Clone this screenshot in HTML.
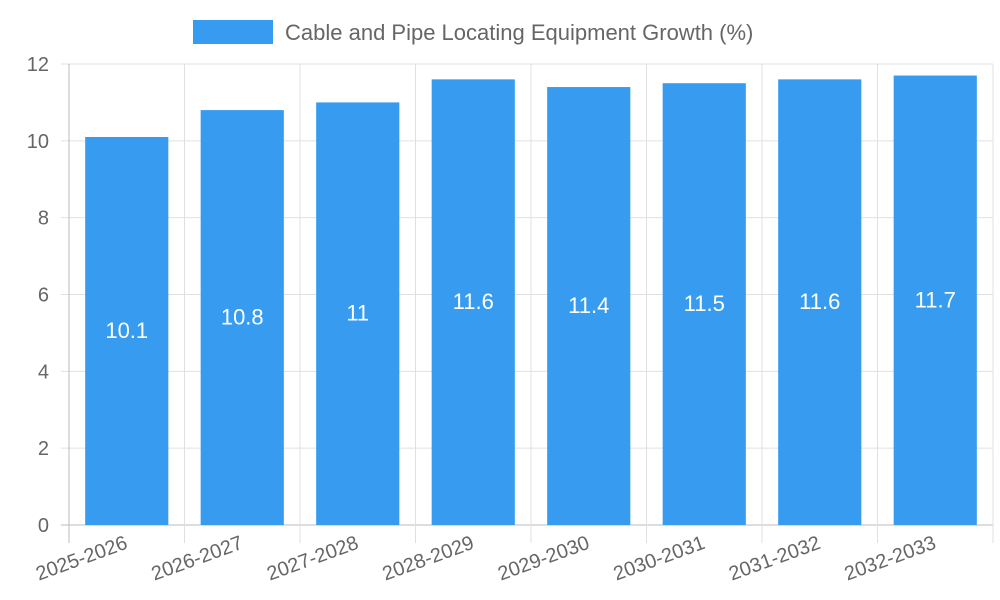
<!DOCTYPE html>
<html><head><meta charset="utf-8"><style>
body{margin:0;background:#fff;}
svg{display:block;font-family:"Liberation Sans",sans-serif;}
</style></head><body>
<svg id="chart" width="1000" height="600" viewBox="0 0 1000 600">
<g>
<rect x="193" y="20" width="80" height="24" fill="#379cf0"/>
<text x="285" y="40" font-size="22" fill="#666">Cable and Pipe Locating Equipment Growth (%)</text>
</g>
<g id="grid"></g><g id="bars"></g><g id="labels"></g>
</svg>
<script>
const categories=["2025-2026","2026-2027","2027-2028","2028-2029","2029-2030","2030-2031","2031-2032","2032-2033"];
const values=[10.1,10.8,11,11.6,11.4,11.5,11.6,11.7];
const yTicks=[0,2,4,6,8,10,12];
const L=69,R=993,T=64,B=525,yMax=12;
const ns="http://www.w3.org/2000/svg";
const y=v=>B-(v/yMax)*(B-T);
const bw=(R-L)/categories.length;
const x=i=>L+i*bw;
const grid=document.getElementById('grid'),bars=document.getElementById('bars'),labels=document.getElementById('labels');
function mk(tag,attrs,parent){const e=document.createElementNS(ns,tag);for(const k in attrs)e.setAttribute(k,attrs[k]);parent.appendChild(e);return e;}
yTicks.forEach(t=>{
  const l=mk('line',{x1:L-8,x2:R,y1:y(t),y2:y(t),stroke:t===0?'#bbb':'#e0e0e0','stroke-width':1},grid);
  
  
  const tx=mk('text',{x:L-20,y:y(t)+7,'text-anchor':'end','font-size':20,fill:'#666'},grid);
  tx.textContent=t;
  
  
});
for(let i=0;i<=categories.length;i++){
  const l=mk('line',{x1:x(i),x2:x(i),y1:T,y2:B+18,stroke:i===0?'#bbb':'#e0e0e0','stroke-width':1},grid);
  
  
}
categories.forEach((c,i)=>{
  const cx=x(i)+bw/2,w=bw*0.72;
  const r=mk('rect',{x:cx-w/2,y:y(values[i]),width:w,height:B-y(values[i]),fill:'#379cf0'},bars);
  
  
  const v=mk('text',{x:cx,y:(y(values[i])+B)/2+7,'text-anchor':'middle','font-size':22,fill:'#fff'},labels);
  v.textContent=values[i];
  
  
  const t=mk('text',{x:cx+2,y:548,'text-anchor':'end','font-size':20,fill:'#666',transform:`rotate(-20 ${cx+2} 548)`},labels);
  t.textContent=c;
  
  
});
</script>
</body></html>
